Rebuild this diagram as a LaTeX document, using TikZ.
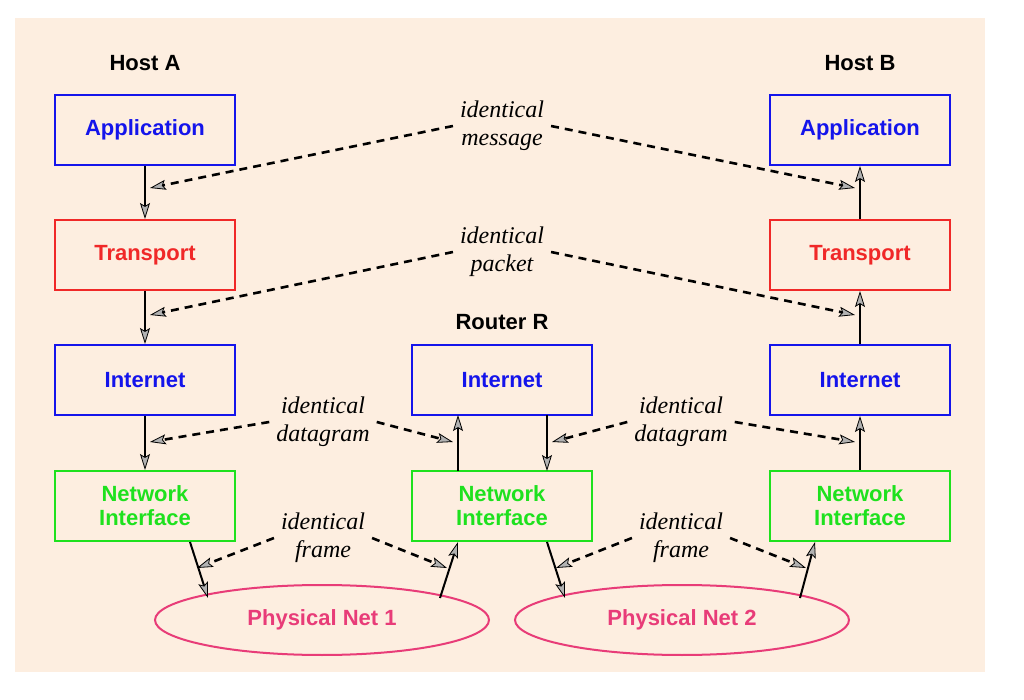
\documentclass[tikz,border=0pt]{standalone}
\usepackage{fontspec}
\setmainfont{Liberation Serif}
\newfontfamily\lsans{Liberation Sans}
\usetikzlibrary{arrows.meta,shapes.geometric}
\definecolor{bg}{RGB}{253,238,224}
\definecolor{cblue}{RGB}{20,20,235}
\definecolor{cred}{RGB}{240,40,40}
\definecolor{cgreen}{RGB}{30,225,30}
\definecolor{cpink}{RGB}{232,60,120}
\begin{document}
\begin{tikzpicture}[x=0.5pt,y=-0.5pt,
 box/.style={draw=#1,line width=1pt,minimum width=90pt,minimum height=35pt,inner sep=0pt,text=#1,font=\lsans\bfseries\fontsize{11}{12}\selectfont,align=center},
 tip/.style={-{Stealth[length=8pt,width=5pt,inset=1.5pt,fill=gray!60,color=black,line width=0.4pt]}},
 vline/.style={tip,line width=1pt},
 dline/.style={tip,line width=1.3pt,dash pattern=on 4pt off 3pt},
 lab/.style={font=\itshape\fontsize{12}{14}\selectfont,align=center},
 host/.style={font=\lsans\bfseries\fontsize{11}{12}\selectfont}]
\useasboundingbox (0,0) rectangle (1024,700);
\fill[white] (0,0) rectangle (1024,700);
\fill[bg] (15,18) rectangle (985,672);
\node[host] (ha) at (145,63) {Host A};
\node[host] (hb) at (860,63) {Host B};
\node[host] (rr) at (502,322) {Router R};
\node[box=cblue] (a1) at (145,130) {Application};
\node[box=cred] (a2) at (145,255) {Transport};
\node[box=cblue] (a3) at (145,380) {Internet};
\node[box=cgreen] (a4) at (145,506) {Network\\Interface};
\node[box=cblue] (b1) at (860,130) {Application};
\node[box=cred] (b2) at (860,255) {Transport};
\node[box=cblue] (b3) at (860,380) {Internet};
\node[box=cgreen] (b4) at (860,506) {Network\\Interface};
\node[box=cblue] (r3) at (502,380) {Internet};
\node[box=cgreen] (r4) at (502,506) {Network\\Interface};
\node[ellipse,draw=cpink,line width=1pt,minimum width=167pt,minimum height=35pt,text=cpink,font=\lsans\bfseries\fontsize{11}{12}\selectfont] (p1) at (322,620) {Physical Net 1};
\node[ellipse,draw=cpink,line width=1pt,minimum width=167pt,minimum height=35pt,text=cpink,font=\lsans\bfseries\fontsize{11}{12}\selectfont] (p2) at (682,620) {Physical Net 2};
\node[lab] (l1) at (502,126) {identical\\message};
\node[lab] (l2) at (502,252) {identical\\packet};
\node[lab] (l3) at (323,422) {identical\\datagram};
\node[lab] (l4) at (681,422) {identical\\datagram};
\node[lab] (l5) at (323,538) {identical\\frame};
\node[lab] (l6) at (681,538) {identical\\frame};
% vertical
\draw[vline] (a1.south) -- (a2.north);
\draw[vline] (a2.south) -- (a3.north);
\draw[vline] (a3.south) -- (a4.north);
\draw[vline] (b2.north) -- (b1.south);
\draw[vline] (b3.north) -- (b2.south);
\draw[vline] (b4.north) -- (b3.south);
\coordinate (u1) at (458,471); \coordinate (u2) at (458,415);
\coordinate (d1) at (547,415); \coordinate (d2) at (547,471);
\draw[vline] (u1) -- (u2);
\draw[vline] (d1) -- (d2);
\coordinate (f1) at (190,542); \coordinate (f1e) at (208,598);
\coordinate (f2) at (440,598); \coordinate (f2e) at (458,542);
\coordinate (f3) at (547,542); \coordinate (f3e) at (565,598);
\coordinate (f4) at (800,598); \coordinate (f4e) at (815,542);
\draw[vline] (f1) -- (f1e);
\draw[vline] (f2) -- (f2e);
\draw[vline] (f3) -- (f3e);
\draw[vline] (f4) -- (f4e);
% dashed
\coordinate (m1) at (150,188); \coordinate (m2) at (855,188);
\coordinate (m3) at (150,315); \coordinate (m4) at (855,315);
\coordinate (m5) at (150,442); \coordinate (m6) at (453,442);
\coordinate (m7) at (552,442); \coordinate (m8) at (855,442);
\coordinate (m9) at (197,568); \coordinate (m10) at (447,568);
\coordinate (m11) at (556,568); \coordinate (m12) at (806,568);
\draw[dline] (l1.west) -- (m1);
\draw[dline] (l1.east) -- (m2);
\draw[dline] (l2.west) -- (m3);
\draw[dline] (l2.east) -- (m4);
\draw[dline] (l3.west) -- (m5);
\draw[dline] (l3.east) -- (m6);
\draw[dline] (l4.west) -- (m7);
\draw[dline] (l4.east) -- (m8);
\draw[dline] (l5.west) -- (m9);
\draw[dline] (l5.east) -- (m10);
\draw[dline] (l6.west) -- (m11);
\draw[dline] (l6.east) -- (m12);
\end{tikzpicture}
\end{document}
